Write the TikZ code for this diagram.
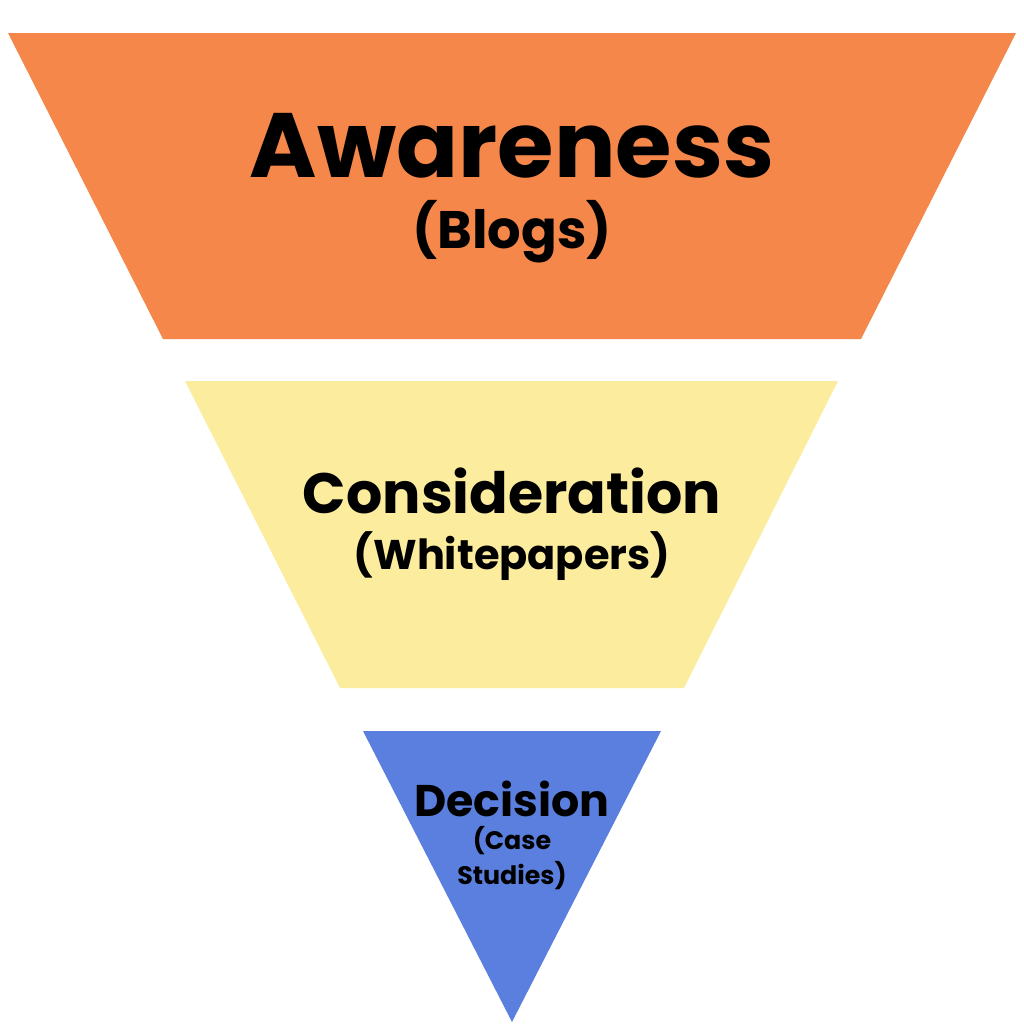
\documentclass[tikz,border=0pt]{standalone}
\usepackage{fontspec}
\setmainfont{Poppins}
\definecolor{aw}{HTML}{F5874A}
\definecolor{co}{HTML}{FBEC9E}
\definecolor{de}{HTML}{5B7FDE}
\begin{document}
\begin{tikzpicture}[x=0.01cm,y=-0.01cm,
  lbl/.style={inner sep=0pt,align=center,font=\bfseries,text=black}]
\useasboundingbox (0,0) rectangle (1024,1024);
\fill[aw] (8,33) -- (1016,33) -- (861,339) -- (163,339) -- cycle;
\fill[co] (185,381) -- (838,381) -- (684,688) -- (340,688) -- cycle;
\fill[de] (363,731) -- (661,731) -- (512,1022) -- cycle;
\node[lbl,font=\bfseries\fontsize{26}{30}\selectfont] (a) at (512,146) {Awareness};
\node[lbl,font=\bfseries\fontsize{15}{18}\selectfont] (ab) at (512,232) {(Blogs)};
\node[lbl,font=\bfseries\fontsize{16.2}{20}\selectfont] (c) at (512,491) {Consideration};
\node[lbl,font=\bfseries\fontsize{11.8}{14}\selectfont] (cb) at (512,556) {(Whitepapers)};
\node[lbl,font=\bfseries\fontsize{12.6}{15}\selectfont] (d) at (512,799) {Decision};
\node[lbl,font=\bfseries\fontsize{7.2}{10}\selectfont] (db) at (512,858) {(Case\\Studies)};
\end{tikzpicture}
\end{document}
